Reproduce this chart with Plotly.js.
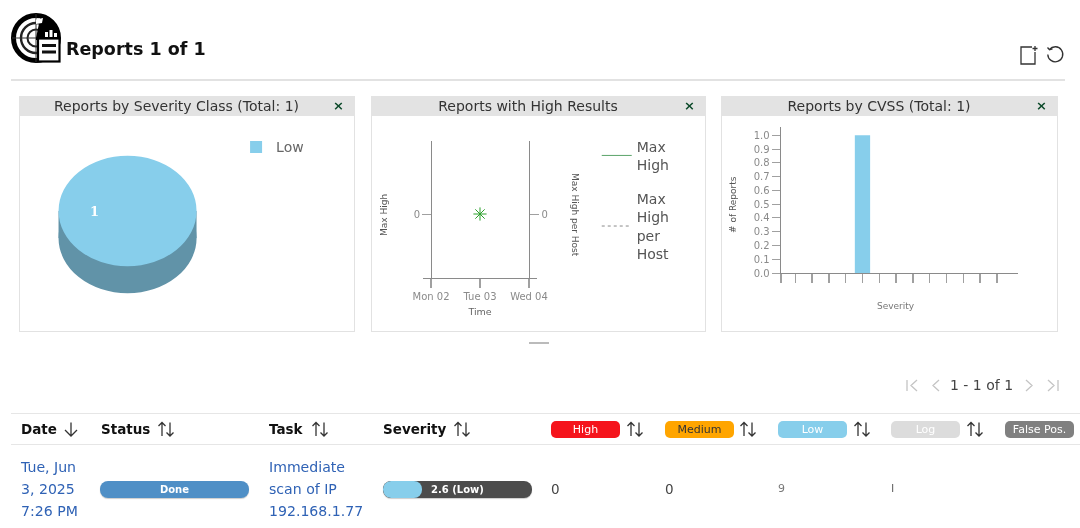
<!DOCTYPE html>
<html><head><meta charset="utf-8">
<script src="https://cdn.plot.ly/plotly-3.0.1.min.js"></script>
<style>
html,body{margin:0;padding:0;background:#fff;width:1080px;height:528px;overflow:hidden;font-family:"DejaVu Sans",sans-serif;color:#333}
body{filter:blur(.3px)}
.abs{position:absolute;white-space:nowrap}
.panel{position:absolute;top:96px;height:236px;border:1px solid #e2e2e2;box-sizing:border-box;background:#fff}
.phead{position:absolute;left:-1px;right:-1px;top:-1px;height:20px;background:#e3e3e3;text-align:center;font-size:14px;line-height:20px;color:#333;padding-right:21px;box-sizing:border-box}
.pclose{position:absolute;right:11px;top:0;font-size:13px;font-weight:bold;color:#0c4a2a;line-height:19px}
.plot{position:absolute;left:-1px;top:18px;height:217px}
.th{font-weight:bold;font-size:13.5px;color:#111;top:421px;line-height:16px}
.arrow{position:absolute;top:420px}
.badge{position:absolute;top:421px;width:69px;height:17px;border-radius:5px;text-align:center;font-size:11px;line-height:18px;color:#fff}
.cell{color:#2f62b5;font-size:14.1px;line-height:22px}
.num{font-size:13.5px;color:#444;top:480px;line-height:18px}
.bar{position:absolute;top:481px;width:149px;height:17px;border-radius:8px;color:#fff;font-size:10px;font-weight:bold;text-align:center;line-height:18px;box-shadow:0 1px 1px #ccc;overflow:hidden}
</style></head><body>

<svg width="0" height="0" style="position:absolute">
  <symbol id="ud" viewBox="0 0 18 18"><path d="M5 16V2.5M1.5 6L5 2.5L8.5 6M13 2.5V16M9.5 12.5L13 16L16.5 12.5" fill="none" stroke="#333" stroke-width="1.3"/></symbol>
  <symbol id="dn" viewBox="0 0 18 18"><path d="M9 2.5V16M3 10L9 16L15 10" fill="none" stroke="#333" stroke-width="1.3"/></symbol>
</svg>

<svg class="abs" style="left:8px;top:10px" width="58" height="56" viewBox="8 10 58 56">
  <circle cx="36" cy="38" r="22.5" fill="#fff" stroke="#000" stroke-width="5"/>
  <circle cx="36" cy="38" r="15" fill="none" stroke="#222" stroke-width="2.4"/>
  <circle cx="36" cy="38" r="8.5" fill="none" stroke="#222" stroke-width="2"/>
  <path d="M12 38H60M36 14V62" stroke="#333" stroke-width="1"/>
  <path d="M36 38L41 14A25 25 0 0 1 60 34V40H36Z" fill="#000"/>
  <path d="M36 19.5L43 18L42 23L36 24Z" fill="#fff"/>
  <rect x="45" y="32" width="3" height="5" fill="#fff"/><rect x="49.5" y="30" width="3" height="7" fill="#fff"/><rect x="54" y="33" width="3" height="4" fill="#fff"/>
  <rect x="38" y="38.5" width="21.5" height="23" fill="#fff" stroke="#000" stroke-width="2.2"/>
  <rect x="42" y="44" width="14" height="3" fill="#111"/><rect x="42" y="50.5" width="14" height="3" fill="#111"/>
</svg>
<div class="abs" id="pagetitle" style="left:66px;top:38px;font-size:17.5px;font-weight:bold;color:#111;line-height:22px">Reports 1 of 1</div>
<svg class="abs" style="left:1015px;top:42px" width="52" height="26" viewBox="1015 42 52 26" fill="none" stroke="#333" stroke-width="1.3">
  <path d="M1032 47H1021V64H1035V52M1035 46V51M1032.5 48.5H1037.5"/>
  <path d="M1049.5 49.5A7.5 7.5 0 1 1 1047.8 54.5" /><path d="M1047.5 47.5L1049.5 49.8L1052.5 48.8"/>
</svg>
<div class="abs" style="left:11px;top:79px;width:1054px;height:2px;background:#e2e2e2"></div>

<div class="panel" style="left:19px;width:336px"><div class="phead">Reports by Severity Class (Total: 1)<span class="pclose">×</span></div><div class="plot" id="pie" style="width:335px"></div></div>
<div class="panel" style="left:371px;width:335px"><div class="phead">Reports with High Results<span class="pclose">×</span></div><div class="plot" id="time" style="width:334px"></div></div>
<div class="panel" style="left:721px;width:337px"><div class="phead">Reports by CVSS (Total: 1)<span class="pclose">×</span></div><div class="plot" id="cvss" style="width:336px"></div></div>

<div class="abs" style="left:529px;top:342px;width:20px;height:2px;background:#bbb"></div>

<svg class="abs" style="left:900px;top:376px" width="165" height="20" viewBox="900 376 165 20" fill="none" stroke="#c4c4c4" stroke-width="1.3">
  <path d="M907 380V391M917 380L911 385.5L917 391M939 380L933 385.5L939 391M1026 380L1032 385.5L1026 391M1048 380L1054 385.5L1048 391M1058 380V391"/>
</svg>
<div class="abs" style="left:950px;top:377px;font-size:14px;line-height:17px;color:#444">1 - 1 of 1</div>

<div class="abs" style="left:11px;top:413px;width:1069px;height:1px;background:#e6e6e6"></div>
<div class="abs" style="left:11px;top:444px;width:1069px;height:1px;background:#e6e6e6"></div>
<div class="abs th" style="left:21px">Date</div><svg class="arrow" style="left:62px" width="18" height="18"><use href="#dn"/></svg>
<div class="abs th" style="left:101px">Status</div><svg class="arrow" style="left:157px" width="18" height="18"><use href="#ud"/></svg>
<div class="abs th" style="left:269px">Task</div><svg class="arrow" style="left:311px" width="18" height="18"><use href="#ud"/></svg>
<div class="abs th" style="left:383px">Severity</div><svg class="arrow" style="left:453px" width="18" height="18"><use href="#ud"/></svg>
<div class="badge" style="left:551px;background:#f5141c">High</div><svg class="arrow" style="left:626px" width="18" height="18"><use href="#ud"/></svg>
<div class="badge" style="left:665px;background:#ffa500;color:#333">Medium</div><svg class="arrow" style="left:739px" width="18" height="18"><use href="#ud"/></svg>
<div class="badge" style="left:778px;background:#87ceeb">Low</div><svg class="arrow" style="left:853px" width="18" height="18"><use href="#ud"/></svg>
<div class="badge" style="left:891px;background:#dcdcdc">Log</div><svg class="arrow" style="left:966px" width="18" height="18"><use href="#ud"/></svg>
<div class="badge" style="left:1005px;background:#808080">False Pos.</div>

<div class="abs cell" style="left:21px;top:456px">Tue, Jun<br>3, 2025<br>7:26 PM</div>
<div class="bar" style="left:100px;background:#4f8fc6">Done</div>
<div class="abs cell" style="left:269px;top:456px">Immediate<br>scan of IP<br>192.168.1.77</div>
<div class="bar" style="left:383px;background:#4c4c4c"><div style="position:absolute;left:0;top:0;bottom:0;width:39px;background:#87ceeb;border-radius:8px"></div><span style="position:relative">2.6 (Low)</span></div>
<div class="abs num" style="left:551px">0</div>
<div class="abs num" style="left:665px">0</div>
<div class="abs num" style="left:778px;filter:blur(.6px);color:#777;font-size:11px">9</div>
<div class="abs num" style="left:891px;filter:blur(.3px);color:#666;font-size:11px">I</div>

<script>
const severityClasses = ['Low'];
const severityCounts = [1];
const reportDates = ['2025-06-03'];
const maxHigh = [0];
const maxHighPerHost = [0];
const timeTicks = ['2025-06-02','2025-06-03','2025-06-04'];
const timeLabels = ['Mon 02','Tue 03','Wed 04'];
const cvssBins = [0,1,2,3,4,5,6,7,8,9,10,11,12];
const cvssCounts = [0,0,0,0,1,0,0,0,0,0,0,0,0];
const cvssYTicks = [0,0.1,0.2,0.3,0.4,0.5,0.6,0.7,0.8,0.9,1.0];

const FONT = '"DejaVu Sans", sans-serif';
const cfg = {staticPlot:true, displayModeBar:false};
const tickFont = {family:FONT, size:10, color:'#8a8a8a'};
const titleFont = {family:FONT, size:9, color:'#555'};
const axisGrey = '#8a8a8a', tickGrey = '#a0a0a0';

/* pie: two stacked pies flattened into a cylinder */
const lightBlue = '#87ceeb', darkBlue = '#6193a8';
Plotly.newPlot('pie', [
  {type:'pie', labels:severityClasses, values:severityCounts, sort:false, textinfo:'none', showlegend:false,
   marker:{colors:[darkBlue]}, domain:{x:[0.118,0.53], y:[0.1578,0.7938]}},
  {type:'pie', labels:severityClasses, values:severityCounts, sort:false, textinfo:'none',
   marker:{colors:[lightBlue]}, domain:{x:[0.118,0.53], y:[0.3134,0.9493]}}
], {
  width:335, height:217, margin:{l:0,r:0,t:0,b:0}, paper_bgcolor:'rgba(0,0,0,0)',
  shapes:[{type:'rect', xref:'paper', yref:'paper', x0:0.118, x1:0.53, y0:0.433, y1:0.5576, layer:'below', fillcolor:darkBlue, line:{width:0}}],
  legend:{x:0.648, y:0.925, xanchor:'left', yanchor:'top', font:{family:FONT,size:14,color:'#666'}, bgcolor:'rgba(0,0,0,0)'},
  annotations:[{xref:'paper', yref:'paper', x:75/335, y:121/217, xanchor:'center', yanchor:'middle', text:'<b>'+severityCounts[0]+'</b>', showarrow:false,
    font:{family:'"DejaVu Serif", serif', size:13, color:'#fff'}}]
}, cfg).then(gd=>{ gd.querySelector('.pielayer').setAttribute('transform','translate(0,32) scale(1,0.8)'); });

/* time chart */
const dayPad = 8/49;
function shiftDay(d, f){ return new Date(Date.parse(d+'T00:00:00Z') + f*864e5).toISOString(); }
const yAx = {range:[-1,73/64], tickvals:[0], ticktext:['0'], ticks:'outside', ticklen:9, tickcolor:tickGrey, tickfont:tickFont,
  showline:true, linecolor:axisGrey, linewidth:1.4, showgrid:false, zeroline:false, anchor:'free'};
Plotly.newPlot('time', [
  {type:'scatter', mode:'lines', name:'Max<br>High', x:reportDates, y:maxHigh, yaxis:'y', line:{color:'#5aa469',width:1}, legendgroup:'a'},
  {type:'scatter', mode:'lines', name:'Max<br>High<br>per<br>Host', x:reportDates, y:maxHighPerHost, yaxis:'y2', line:{color:'#8a8a8a',width:1,dash:'dot'}, legendgroup:'b'},
  {type:'scatter', mode:'markers', x:reportDates, y:maxHigh, yaxis:'y', showlegend:false, marker:{symbol:'asterisk-open',size:11,line:{color:'#2e7d4f',width:1}}}
], {
  width:334, height:217, margin:{l:52,r:168,t:26,b:54}, paper_bgcolor:'rgba(0,0,0,0)', plot_bgcolor:'rgba(0,0,0,0)',
  xaxis:{type:'date', domain:[0,1], range:[shiftDay(timeTicks[0],-dayPad), shiftDay(timeTicks[2],dayPad)], tickvals:timeTicks, ticktext:timeLabels,
    ticks:'outside', ticklen:9, tickcolor:tickGrey, tickwidth:1.4, tickfont:tickFont, showline:true, linecolor:axisGrey, linewidth:1.4, showgrid:false, zeroline:false,
    title:{text:'Time', font:{family:FONT,size:9.5,color:'#666'}, standoff:7}},
  yaxis:Object.assign({}, yAx, {position:8/114, side:'left'}),
  yaxis2:Object.assign({}, yAx, {position:106/114, side:'right', overlaying:'y'}),
  annotations:[
    {xref:'paper', yref:'paper', x:(384-423)/114, y:(278-215)/137, text:'Max High', textangle:-90, showarrow:false, xanchor:'center', yanchor:'middle', font:titleFont},
    {xref:'paper', yref:'paper', x:(575-423)/114, y:(278-215)/137, text:'Max High per Host', textangle:90, showarrow:false, xanchor:'center', yanchor:'middle', font:titleFont}
  ],
  legend:{x:1.524, y:1.075, xanchor:'left', yanchor:'top', maxheight:210, font:{family:FONT,size:14,color:'#555'}, bgcolor:'rgba(0,0,0,0)', tracegroupgap:13}
}, cfg);

/* cvss chart */
Plotly.newPlot('cvss', [
  {type:'bar', x:cvssBins, y:cvssCounts, width:0.91, marker:{color:lightBlue}, showlegend:false}
], {
  width:336, height:217, margin:{l:60,r:39,t:12,b:59}, paper_bgcolor:'rgba(0,0,0,0)', plot_bgcolor:'rgba(0,0,0,0)',
  xaxis:{range:[-0.851,13.26], tickvals:[-0.851].concat(cvssBins), ticktext:[''].concat(cvssBins.map(()=>'')), ticks:'outside', ticklen:9, tickcolor:tickGrey, tickwidth:1.4,
    showline:true, linecolor:axisGrey, linewidth:1.4, showgrid:false, zeroline:false},
  yaxis:{range:[0,1.06], tickvals:cvssYTicks, tickformat:'.1f', ticks:'outside', ticklen:8, tickcolor:tickGrey, tickfont:tickFont,
    showline:true, linecolor:axisGrey, linewidth:1.4, showgrid:false, zeroline:false},
  annotations:[
    {xref:'paper', yref:'paper', x:(733-781)/237, y:(273-205)/146, text:'# of Reports', textangle:-90, showarrow:false, xanchor:'center', yanchor:'middle', font:titleFont},
    {xref:'paper', yref:'paper', x:(896-781)/237, y:(273-306)/146, text:'Severity', showarrow:false, xanchor:'center', yanchor:'middle', font:{family:FONT,size:9,color:'#777'}}
  ]
}, cfg);
</script>
</body></html>
